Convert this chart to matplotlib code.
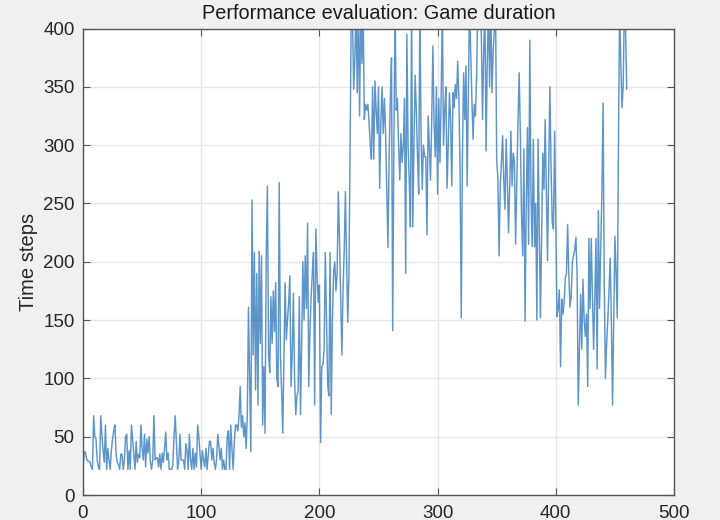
import numpy as np
import matplotlib
matplotlib.use('Agg')
import matplotlib.pyplot as plt

# values, one entry per game, anything above 400 runs off the axes
early_games = [
    22, 37, 37, 31, 29, 29, 28, 24, 22, 68,
    50, 48, 30, 24, 22, 68, 52, 38, 28, 60,
    22, 40, 30, 22, 38, 48, 55, 60, 35, 28,
    26, 22, 35, 35, 22, 30, 50, 52, 22, 38,
    22, 60, 48, 35, 22, 46, 28, 35, 32, 60,
    40, 30, 52, 24, 48, 36, 50, 28, 22, 30,
    68, 30, 32, 32, 24, 35, 22, 36, 28, 40,
    54, 30, 36, 22, 22, 22, 26, 50, 68, 45,
    22, 28, 52, 30, 30, 30, 22, 44, 38, 22,
    52, 30, 22, 40, 22, 36, 24, 60, 50, 35,
    22, 38, 30, 24, 40, 22, 35, 46, 46, 30,
    40, 28, 22, 30, 52, 42, 30, 40, 22, 30,
    22, 22, 50, 55, 22, 60, 40, 22, 45, 60,
]
rising_games = [
    60, 55, 68, 93, 58, 68, 50, 62, 40, 68,
    161, 100, 37, 253, 120, 208, 90, 190, 77, 209,
    130, 205, 60, 110, 53, 205, 265, 120, 105, 170,
    130, 175, 140, 182, 100, 93, 268, 120, 90, 53,
    120, 182, 133, 150, 165, 188, 93, 120, 173, 100,
    69, 85, 90, 170, 69, 130, 200, 150, 205, 160,
    233, 93, 140, 170, 190, 208, 77, 228, 190, 165,
    180, 45, 110, 112, 125, 208, 150, 95, 85, 208,
    69, 150, 190, 200, 175, 190, 260, 220, 170, 120,
    175, 210, 260, 200, 148, 190, 300,
]
peak_games = [
    420, 410, 348, 375, 420, 345, 420, 325, 420, 370, 420, 322,
    335, 330, 335, 320, 300, 288, 350, 288, 355, 330, 310, 350, 263, 320,
    350, 310, 340, 310, 260, 212, 290, 340, 375, 141, 300, 420, 330, 340,
    300, 270, 310, 285, 300, 340, 190, 395, 300, 270, 230, 420, 230, 300,
    360, 330, 290, 258, 420, 310, 262, 300, 290, 290, 223, 325, 300, 270,
    320, 385, 320, 290, 350, 258, 340, 285, 340, 420, 300, 330, 350, 263,
    300, 345, 320, 265, 345, 332, 352, 340, 372, 340, 280, 152, 290, 362,
    322, 368, 265, 340, 420, 380, 340, 305, 335, 325, 360, 420, 420, 420,
    395, 322, 380, 420, 295, 370, 420, 350, 420, 345, 380, 400, 420,
]
late_games = [
    287, 272, 205, 265, 285, 308, 270, 245, 305, 270,
    225, 265, 312, 265, 293, 285, 215, 270, 320, 362,
    310, 240, 205, 297, 149, 250, 315, 215, 390, 258,
    213, 305, 213, 250, 150, 305, 230, 152, 220, 293,
    262, 322, 260, 201, 280, 350, 280, 234, 228, 312,
    230, 153, 160, 176, 110, 168, 155, 165, 186, 190,
    232, 190, 161, 170, 200, 205, 210, 221, 190, 77,
    125, 172, 125, 185, 150, 136, 155, 93, 220, 160,
    220, 170, 125, 170, 220, 108, 244, 160, 210, 260,
    336, 180, 100, 130, 150, 175, 203, 150, 77, 150,
    222, 190, 152, 300, 420, 370, 332, 350, 420, 400,
    348,
]
x_ticks = [0, 100, 200, 300, 400, 500]
y_ticks = [0, 50, 100, 150, 200, 250, 300, 350, 400]

durations = np.array(early_games + rising_games + peak_games + late_games)
games = np.arange(len(durations))

plt.rcParams['font.family'] = ['Liberation Sans', 'DejaVu Sans']

fig = plt.figure(figsize=(7.2, 5.2), dpi=100, facecolor='#f0f0f0')
ax = fig.add_axes([83 / 720, 1 - 495 / 520, 591 / 720, 466.5 / 520])

ax.plot(games, durations, color='#2f78bd', lw=1.05, alpha=0.78)

ax.set_xlim(0, 500)
ax.set_ylim(0, 400)
ax.set_xticks(x_ticks)
ax.set_yticks(y_ticks)
ax.grid(True, color='#e6e6e6', lw=1.0)
ax.set_axisbelow(True)
ax.tick_params(direction='in', top=True, right=True, length=5, width=0.8,
               color='#555555', labelcolor='#262626', labelsize=13.5, pad=6)
# reference crops these labels at the bottom edge, keep them just inside
ax.tick_params(axis='x', pad=7.5)
for spine in ax.spines.values():
    spine.set_color('#555555')
    spine.set_linewidth(1.0)

ax.set_title('Performance evaluation: Game duration', fontsize=14.3, color='#1a1a1a', pad=6.5)
ax.set_ylabel('Time steps', fontsize=14.5, color='#262626', labelpad=3.5)

plt.savefig('out.png', dpi=100, facecolor=fig.get_facecolor())
